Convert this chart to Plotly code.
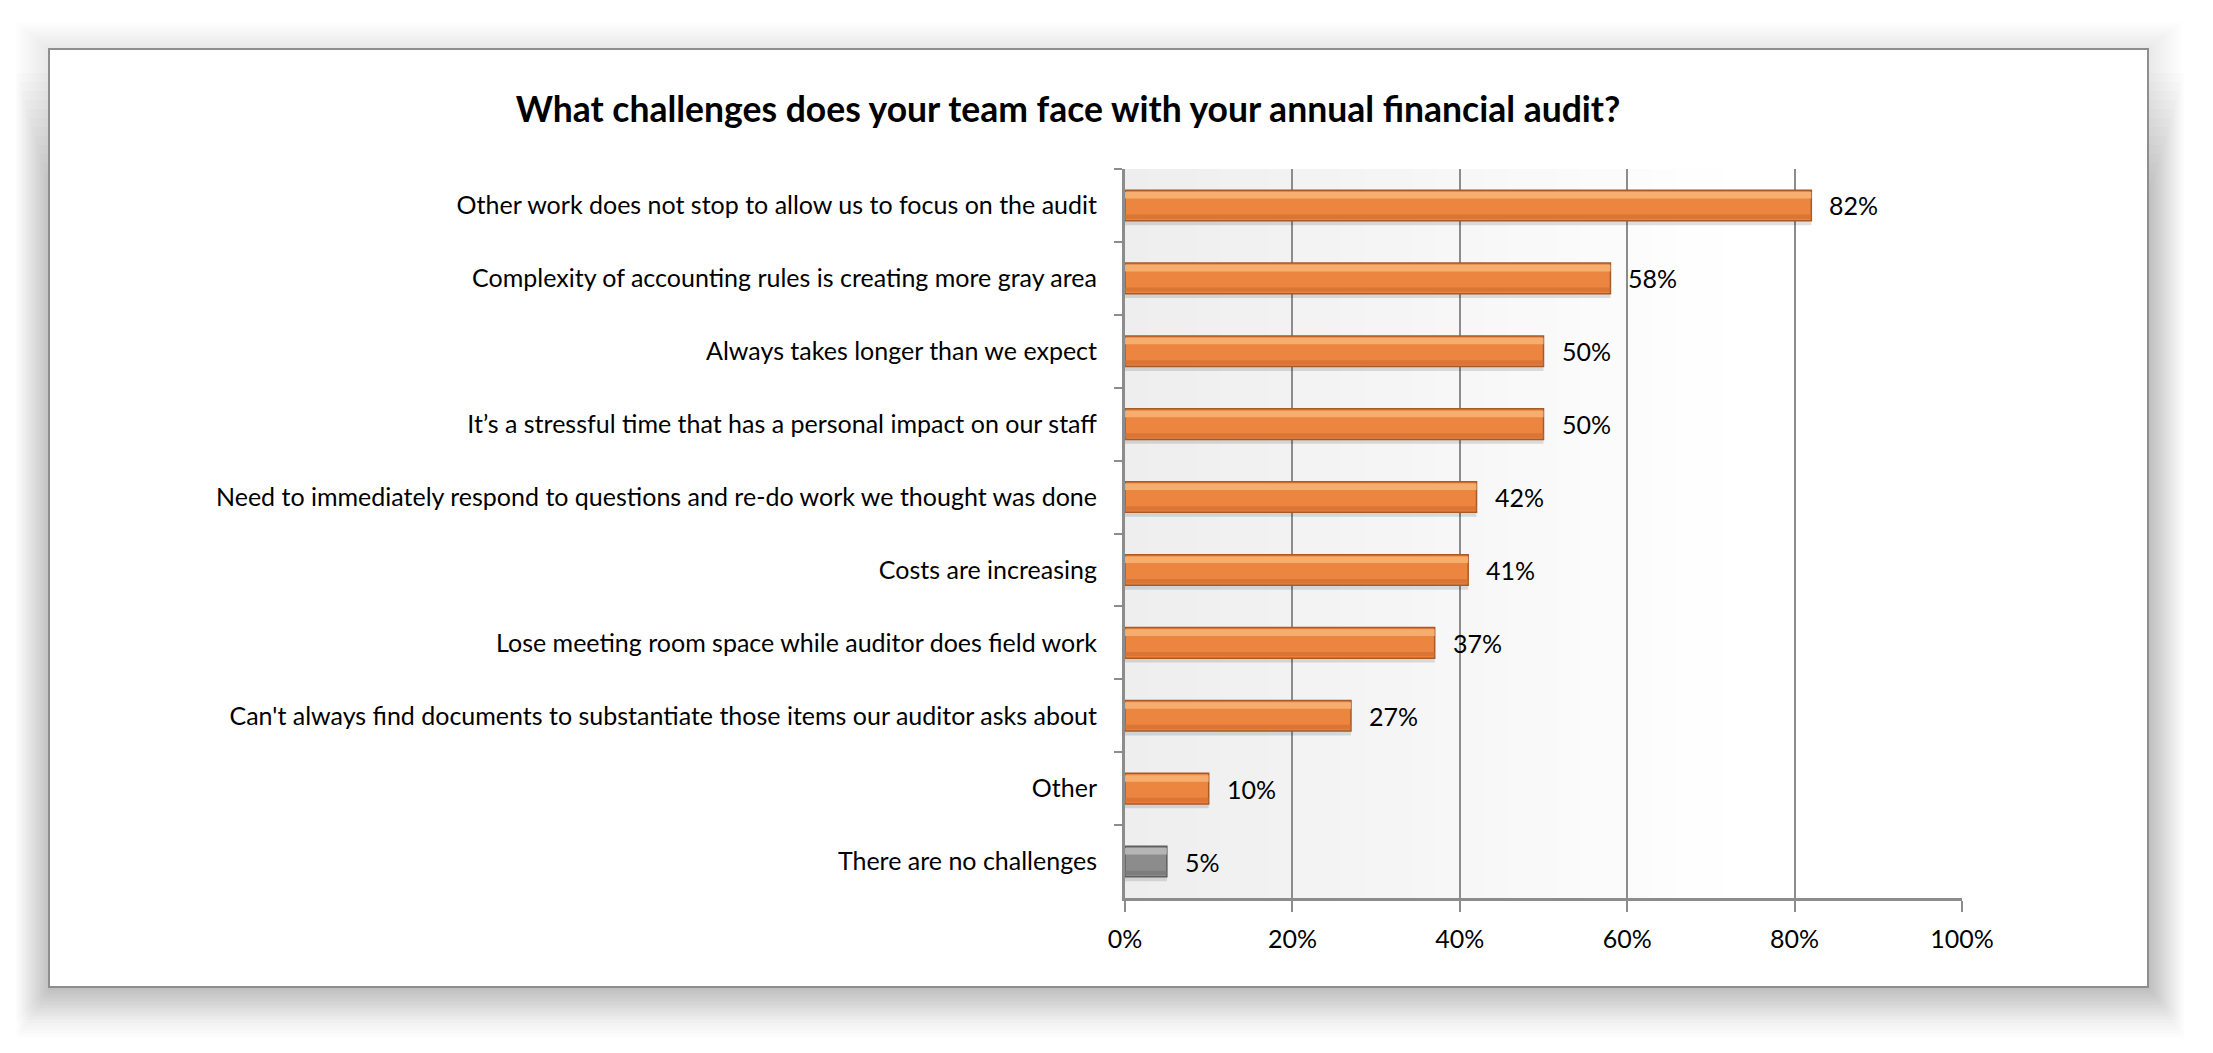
import plotly.graph_objects as go

categories = [
    "Other work does not stop to allow us to focus on the audit",
    "Complexity of accounting rules is creating more gray area",
    "Always takes longer than we expect",
    "It\u2019s a stressful time that has a personal impact on our staff",
    "Need to immediately respond to questions and re-do work we thought was done",
    "Costs are increasing",
    "Lose meeting room space while auditor does field work",
    "Can't always find documents to substantiate those items our auditor asks about",
    "Other",
    "There are no challenges",
]
values = [0.82, 0.58, 0.50, 0.50, 0.42, 0.41, 0.37, 0.27, 0.10, 0.05]
value_labels = ["82%", "58%", "50%", "50%", "42%", "41%", "37%", "27%", "10%", "5%"]
x_ticks = [0, 0.2, 0.4, 0.6, 0.8, 1.0]
x_tick_labels = ["0%", "20%", "40%", "60%", "80%", "100%"]
title_text = "What challenges does your team face with your annual financial audit?"

# styles
is_gray = [c == "There are no challenges" for c in categories]
body_col = ["#8C8C8C" if g else "#EC8540" for g in is_gray]
edge_col = ["#5E5E5E" if g else "#A65A27" for g in is_gray]
hi_col = ["#BDBDBD" if g else "#F8B678" for g in is_gray]
lo_col = ["#777777" if g else "#D36F31" for g in is_gray]

FONT = "Lato"
LABEL_SIZE = 25
W, H = 2213, 1053
L, R, T, B = 1125, 1962, 169, 898
PW, PH = R - L, B - T

def xp(px):
    return (px - L) / PW

def yp(py):
    return (B - py) / PH

fig = go.Figure()
BW = 0.42
# shadow
fig.add_trace(go.Bar(y=categories, x=values, orientation="h", width=BW, offset=-BW / 2 + 0.06,
                     marker=dict(color="rgba(0,0,0,0.12)", line=dict(width=0)),
                     hoverinfo="skip", showlegend=False))
# main body with edge
fig.add_trace(go.Bar(y=categories, x=values, orientation="h", width=BW, offset=-BW / 2,
                     marker=dict(color=body_col, line=dict(color=edge_col, width=1.5)),
                     showlegend=False))
# top highlight
fig.add_trace(go.Bar(y=categories, x=values, orientation="h", width=0.09, offset=-BW / 2 + 0.025,
                     marker=dict(color=hi_col, line=dict(width=0)), opacity=0.85,
                     hoverinfo="skip", showlegend=False))
# lower darker strip
fig.add_trace(go.Bar(y=categories, x=values, orientation="h", width=0.06, offset=BW / 2 - 0.085,
                     marker=dict(color=lo_col, line=dict(width=0)), opacity=0.7,
                     hoverinfo="skip", showlegend=False))

shapes = []
fx0, fx1, fy0, fy1 = 49, 2148, 49, 987
# soft glow all around the frame
for i in range(11, 0, -1):
    e = 3.0 * i
    shapes.append(dict(type="rect", xref="paper", yref="paper", layer="below",
                       x0=xp(fx0 - e), x1=xp(fx1 + e), y0=yp(fy1 + e), y1=yp(fy0 - e * 0.8),
                       fillcolor="rgba(0,0,0,0.008)", line=dict(width=0)))
# drop shadow towards the bottom and sides
for i in range(14, 0, -1):
    es = 2.6 * i
    eb = 3.6 * i
    shapes.append(dict(type="rect", xref="paper", yref="paper", layer="below",
                       x0=xp(fx0 - es + 4), x1=xp(fx1 + es), y0=yp(fy1 + eb), y1=yp(fy0 + 150 - 9 * i),
                       fillcolor="rgba(0,0,0,0.011)", line=dict(width=0)))
# frame
shapes.append(dict(type="rect", xref="paper", yref="paper", layer="below",
                   x0=xp(fx0), x1=xp(fx1), y0=yp(fy1), y1=yp(fy0),
                   fillcolor="white", line=dict(color="#8E8E8E", width=2)))
# plot area gradient
n = 35
for i in range(n):
    a = i / n
    t = min(1.0, a / 0.72)
    g = int(round(238 + (255 - 238) * t))
    shapes.append(dict(type="rect", xref="paper", yref="paper", layer="below",
                       x0=a, x1=a + 1.0 / n + 0.002, y0=0, y1=1,
                       fillcolor=f"rgb({g},{g},{min(255, g + 1)})", line=dict(width=0)))

annotations = []
for c, v, lab in zip(categories, values, value_labels):
    annotations.append(dict(x=v, y=c, xref="x", yref="y", text=lab, showarrow=False,
                            xanchor="left", yanchor="middle", xshift=16,
                            font=dict(family=FONT, size=LABEL_SIZE, color="black")))

fig.update_layout(
    width=W, height=H,
    margin=dict(l=L, r=W - R, t=T, b=H - B, pad=0),
    paper_bgcolor="white",
    plot_bgcolor="rgba(0,0,0,0)",
    barmode="overlay",
    bargap=0.58,
    title=dict(text=f"<b>{title_text}</b>", x=1068 / W, xanchor="center",
               y=1 - 110 / H, yanchor="middle", xref="container", yref="container",
               font=dict(family=FONT, size=35.5, color="black")),
    font=dict(family=FONT, size=LABEL_SIZE, color="black"),
    shapes=shapes,
    annotations=annotations,
    xaxis=dict(range=[0, 1], tickvals=x_ticks, ticktext=x_tick_labels,
               showgrid=True, gridcolor="#8C8C8C", gridwidth=2,
               showline=True, linecolor="#8C8C8C", linewidth=3,
               ticks="outside", ticklen=11, tickwidth=2, tickcolor="#8C8C8C",
               zeroline=False, ticklabelstandoff=6,
               tickfont=dict(family=FONT, size=LABEL_SIZE, color="black"), fixedrange=True),
    yaxis=dict(categoryorder="array", categoryarray=categories, autorange="reversed",
               showline=True, linecolor="#8C8C8C", linewidth=3,
               ticks="outside", ticklen=8, tickwidth=2, tickcolor="#8C8C8C",
               tickson="boundaries", showgrid=False, zeroline=False,
               ticklabelstandoff=20,
               tickfont=dict(family=FONT, size=LABEL_SIZE, color="black"), fixedrange=True),
)

fig.write_html("out.html", config={"displayModeBar": False},
               post_script="document.body.style.margin='0';document.body.style.overflow='hidden';")
